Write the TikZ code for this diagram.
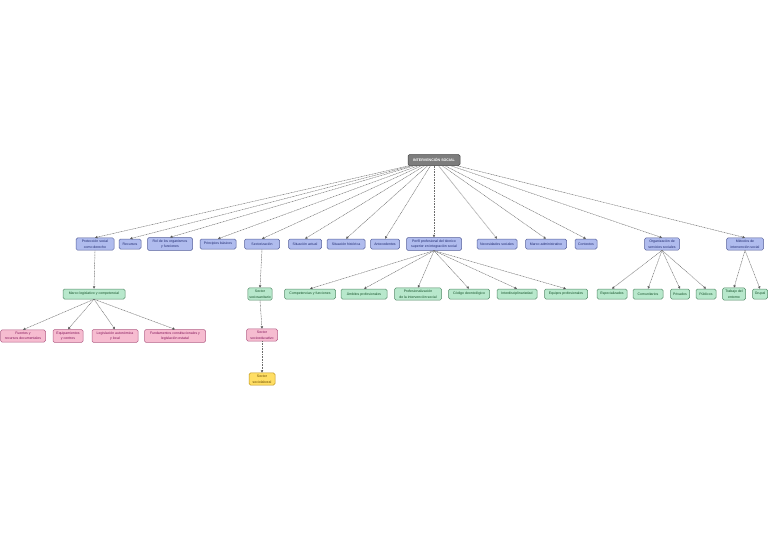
\documentclass[tikz,border=0pt]{standalone}
\usepackage{fontspec}
\setmainfont{Liberation Sans}
\usetikzlibrary{arrows.meta}
\definecolor{rootfill}{RGB}{125,125,125}
\definecolor{rootline}{RGB}{70,70,70}
\definecolor{bluefill}{RGB}{176,188,238}
\definecolor{blueline}{RGB}{85,95,155}
\definecolor{bluetext}{RGB}{30,40,110}
\definecolor{greenfill}{RGB}{184,232,204}
\definecolor{greenline}{RGB}{85,140,105}
\definecolor{greentext}{RGB}{20,80,40}
\definecolor{pinkfill}{RGB}{246,188,208}
\definecolor{pinkline}{RGB}{180,95,135}
\definecolor{pinktext}{RGB}{130,20,90}
\definecolor{yellowfill}{RGB}{255,222,100}
\definecolor{yellowline}{RGB}{190,150,30}
\definecolor{yellowtext}{RGB}{100,70,0}
\tikzset{
	box/.style={draw, rounded corners=1.5pt, line width=0.5pt, align=center, inner xsep=1.5pt, inner ysep=2pt, minimum height=10pt, font=\fontsize{3.5}{5.6}\selectfont},
	rootbox/.style={box, fill=rootfill, draw=rootline, text=white, minimum height=11pt, font=\fontsize{3.6}{4.4}\selectfont\bfseries},
	topic/.style={box, fill=bluefill, draw=blueline, text=bluetext},
	subtopic/.style={box, fill=greenfill, draw=greenline, text=greentext},
	detail/.style={box, fill=pinkfill, draw=pinkline, text=pinktext},
	leaf/.style={box, fill=yellowfill, draw=yellowline, text=yellowtext},
	link/.style={draw=gray!85!black, line width=0.45pt, dash pattern=on 1pt off 0.6pt, -{Triangle[length=2.4pt,width=2.4pt,fill=black]}}
}

\begin{document}
\begin{tikzpicture}[x=1pt, y=-1pt]
	\useasboundingbox[fill=white] (0,0) rectangle (768,543);

	% raiz
	\node[rootbox, minimum width=52pt] (root) at (434,160) {INTERVENCIÓN SOCIAL};

	% primer nivel
	\node[topic, minimum width=38pt] (prot) at (95,244) {Protección social\\como derecho};
	\node[topic, minimum width=22pt] (recursos) at (130,244) {Recursos};
	\node[topic, minimum width=45pt] (roles) at (170,244) {Rol de los organismos\\y funciones};
	\node[topic, minimum width=36pt] (principios) at (218,244) {Principios básicos};
	\node[topic, minimum width=35pt] (sectores) at (262,244) {Sectorización};
	\node[topic, minimum width=33pt] (actual) at (305,244) {Situación actual};
	\node[topic, minimum width=38pt] (historica) at (346,244) {Situación histórica};
	\node[topic, minimum width=29pt] (antecedentes) at (385,244) {Antecedentes};
	\node[topic, minimum width=55pt] (perfil) at (434,244) {Perfil profesional del técnico\\superior en integración social};
	\node[topic, minimum width=40pt] (necesidades) at (497,244) {Necesidades sociales};
	\node[topic, minimum width=41pt] (marcoadm) at (546,244) {Marco administrativo};
	\node[topic, minimum width=22pt] (contextos) at (586,244) {Contextos};
	\node[topic, minimum width=35pt] (organizacion) at (662,244) {Organización de\\servicios sociales};
	\node[topic, minimum width=37pt] (metodos) at (745,244) {Métodos de\\intervención social};

	% segundo nivel
	\node[subtopic, minimum width=62pt] (legis) at (94,294) {Marco legislativo y competencial};
	\node[subtopic, minimum width=20pt] (sanitario) at (260,294) {Sector\\sociosanitario};
	\node[subtopic, minimum width=51pt] (competencias) at (310,294) {Competencias y funciones};
	\node[subtopic, minimum width=46pt] (ambitos) at (364,294) {Ámbitos profesionales};
	\node[subtopic, minimum width=47pt] (profesional) at (418,294) {Profesionalización\\de la intervención social};
	\node[subtopic, minimum width=41pt] (codigo) at (469,294) {Código deontológico};
	\node[subtopic, minimum width=40pt] (inter) at (517,294) {Interdisciplinariedad};
	\node[subtopic, minimum width=43pt] (equipos) at (566,294) {Equipos profesionales};
	\node[subtopic, minimum width=30pt] (especial) at (612,294) {Especializados};
	\node[subtopic, minimum width=30pt] (comunit) at (648,294) {Comunitarios};
	\node[subtopic, minimum width=19pt] (privados) at (680,294) {Privados};
	\node[subtopic, minimum width=20pt] (publicos) at (706,294) {Públicos};
	\node[subtopic, minimum width=23pt] (trabajo) at (734,294) {Trabajo del\\entorno};
	\node[subtopic, minimum width=15pt] (grupal) at (760,294) {Grupal};

	% tercer nivel
	\node[detail, minimum width=45pt] (fuentes) at (23,336) {Fuentes y\\recursos documentales};
	\node[detail, minimum width=30pt] (equipam) at (68,336) {Equipamientos\\y centros};
	\node[detail, minimum width=46pt] (autonom) at (115,336) {Legislación autonómica\\y local};
	\node[detail, minimum width=61pt] (fundam) at (175,336) {Fundamentos constitucionales y\\legislación estatal};
	\node[detail, minimum width=31pt] (educativo) at (262,335) {Sector\\socioeducativo};
	\node[leaf, minimum width=26pt] (laboral) at (262,379) {Sector\\sociolaboral};

	% conexiones desde la raiz
	\draw[link] (root) -- (prot.north);
	\draw[link] (root) -- (recursos.north);
	\draw[link] (root) -- (roles.north);
	\draw[link] (root) -- (principios.north);
	\draw[link] (root) -- (sectores.north);
	\draw[link] (root) -- (actual.north);
	\draw[link] (root) -- (historica.north);
	\draw[link] (root) -- (antecedentes.north);
	\draw[link] (root) -- (perfil.north);
	\draw[link] (root) -- (necesidades.north);
	\draw[link] (root) -- (marcoadm.north);
	\draw[link] (root) -- (contextos.north);
	\draw[link] (root) -- (organizacion.north);
	\draw[link] (root) -- (metodos.north);

	% ramas
	\draw[link] (prot.south) -- (legis.north);
	\draw[link] (legis.south) -- (fuentes.north);
	\draw[link] (legis.south) -- (equipam.north);
	\draw[link] (legis.south) -- (autonom.north);
	\draw[link] (legis.south) -- (fundam.north);

	\draw[link] (sectores.south) -- (sanitario.north);
	\draw[link] (sanitario.south) -- (educativo.north);
	\draw[link] (educativo.south) -- (laboral.north);

	\draw[link] (perfil.south) -- (competencias.north);
	\draw[link] (perfil.south) -- (ambitos.north);
	\draw[link] (perfil.south) -- (profesional.north);
	\draw[link] (perfil.south) -- (codigo.north);
	\draw[link] (perfil.south) -- (inter.north);
	\draw[link] (perfil.south) -- (equipos.north);

	\draw[link] (organizacion.south) -- (especial.north);
	\draw[link] (organizacion.south) -- (comunit.north);
	\draw[link] (organizacion.south) -- (privados.north);
	\draw[link] (organizacion.south) -- (publicos.north);

	\draw[link] (metodos.south) -- (trabajo.north);
	\draw[link] (metodos.south) -- (grupal.north);
\end{tikzpicture}
\end{document}
